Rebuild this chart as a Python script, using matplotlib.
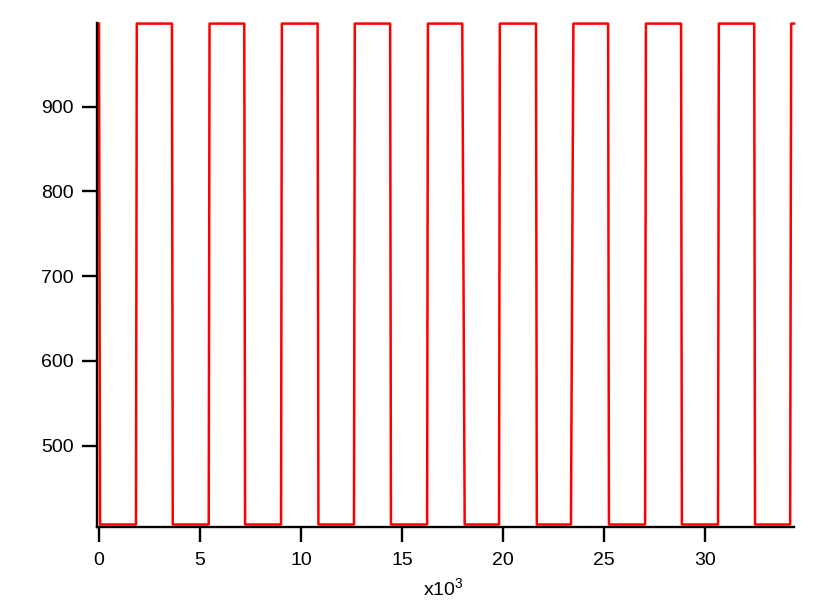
import matplotlib
matplotlib.use("Agg")
import matplotlib.pyplot as plt

plt.rcParams['font.family'] = ['Liberation Sans', 'DejaVu Sans']
plt.rcParams['mathtext.default'] = 'regular'

LOW = 407
HIGH = 998

# time points (x) and signal values (y)
t = [0, 50, 1830, 1870, 3610, 3650, 5430, 5470, 7190, 7230, 9010, 9050,
     10820, 10860, 12620, 12660, 14410, 14450, 16240, 16280, 17980, 18100,
     19800, 19840, 21630, 21670, 23360, 23480, 25200, 25240, 27030, 27070,
     28810, 28850, 30640, 30680, 32430, 32470, 34210, 34260, 34400]
v = [HIGH, LOW, LOW, HIGH, HIGH, LOW, LOW, HIGH, HIGH, LOW, LOW, HIGH,
     HIGH, LOW, LOW, HIGH, HIGH, LOW, LOW, HIGH, HIGH, LOW,
     LOW, HIGH, HIGH, LOW, LOW, HIGH, HIGH, LOW, LOW, HIGH,
     HIGH, LOW, LOW, HIGH, HIGH, LOW, LOW, HIGH, HIGH]

xticks = [0, 5000, 10000, 15000, 20000, 25000, 30000]
xticklabels = ['0', '5', '10', '15', '20', '25', '30']
yticks = [500, 600, 700, 800, 900]

fig = plt.figure(figsize=(8.4, 6.0), dpi=100)
ax = fig.add_axes([97/840, 1-526.7/600, (794-97)/840, (526.7-23)/600])
ax.plot(t, v, color='#ff0000', lw=1.8, clip_on=False, solid_joinstyle='round')

ax.set_xlim(-100, 34400)
ax.set_ylim(404.4, 998.7)
ax.set_xticks(xticks)
ax.set_xticklabels(xticklabels)
ax.set_yticks(yticks)
for s in ['top', 'right']:
    ax.spines[s].set_visible(False)
for s in ['left', 'bottom']:
    ax.spines[s].set_linewidth(1.7)
ax.tick_params(axis='both', length=10.5, width=1.7, labelsize=14, color='black')
ax.tick_params(axis='x', pad=8)
ax.tick_params(axis='y', pad=6)

fig.text(443/840, 1-588/600, 'x10$^{3}$', ha='center', va='center', fontsize=14)

fig.savefig('out.png', dpi=100, facecolor='white')
